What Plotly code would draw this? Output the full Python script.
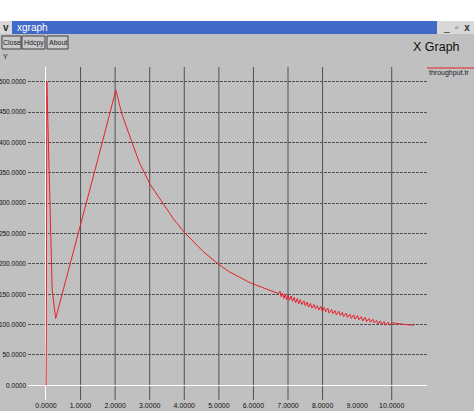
import plotly.graph_objects as go

# throughput.tr samples (time s, throughput)
time_s = [
    0.000, 0.010, 0.025, 0.045, 0.055, 0.065, 0.070, 0.170, 0.180, 0.280,
    0.70, 1.00, 1.50, 2.02,
    2.10, 2.20, 2.43, 2.70, 3.00, 3.39, 3.70, 4.00, 4.55, 5.00, 5.30,
    5.90, 6.30, 6.72,
    6.77, 6.80, 6.84, 6.88, 6.92, 6.96, 7.00, 7.04, 7.09, 7.13,
    7.18, 7.22, 7.27, 7.31, 7.36, 7.40, 7.46, 7.50, 7.55, 7.59,
    7.65, 7.69, 7.75, 7.79, 7.85, 7.89, 7.95, 7.99, 8.05, 8.09,
    8.15, 8.19, 8.26, 8.30, 8.36, 8.40, 8.47, 8.51, 8.57, 8.61,
    8.68, 8.72, 8.79, 8.83, 8.90, 8.94, 9.01, 9.05, 9.12, 9.16,
    9.23, 9.27, 9.34, 9.38, 9.45, 9.49, 9.56, 9.60, 9.67, 9.71,
    9.78, 9.82, 9.89, 9.93, 10.00, 10.20, 10.40, 10.63,
]
throughput = [
    0, 85, 500, 455, 418, 440, 409, 176, 157, 110,
    199, 262, 372, 486,
    468, 446, 409, 367, 332, 299, 273, 252, 220, 199, 187,
    169, 160, 151,
    155, 146, 152, 143, 150, 141, 149, 140, 147, 138,
    145, 136, 143, 134, 141, 133, 139, 131, 137, 129,
    135, 127, 133, 126, 131, 124, 130, 122, 128, 121,
    127, 119, 125, 118, 123, 116, 122, 115, 120, 113,
    119, 112, 117, 110, 116, 109, 115, 108, 113, 106,
    112, 105, 110, 104, 109, 103, 107, 101, 106, 100,
    105, 99, 104, 99, 103, 101, 100, 99,
]

x_ticks = [0, 1, 2, 3, 4, 5, 6, 7, 8, 9, 10]
x_labels = ["0.0000", "1.0000", "2.0000", "3.0000", "4.0000", "5.0000",
            "6.0000", "7.0000", "8.0000", "9.0000", "10.0000"]
x_grid = [1, 2, 3, 4, 5, 6, 7, 8, 10]
y_ticks = [0, 50, 100, 150, 200, 250, 300, 350, 400, 450, 500]
y_labels = ["0.0000", "50.0000", "100.0000", "150.0000", "200.0000", "250.0000",
            "300.0000", "350.0000", "400.0000", "450.0000", "500.0000"]

W, H = 474, 411
BG = "#c0c0c0"
GRID = "#505050"
RED = "#e8202a"
FONT = "Liberation Sans Narrow, Liberation Sans, Arial, sans-serif"


def px(x):
    return x / W


def py(y):
    return 1 - y / H


def label(text, x, y, size=7, color="#202020", xanchor="left"):
    return dict(text=text, xref="paper", yref="paper", x=px(x), y=py(y),
                xanchor=xanchor, yanchor="middle", showarrow=False,
                font=dict(family=FONT, size=size, color=color))


fig = go.Figure()

fig.add_trace(go.Scatter(
    x=time_s,
    y=throughput,
    mode="lines",
    line=dict(color=RED, width=1),
    name="throughput.tr",
    hoverinfo="x+y",
))

shapes = [
    # white strip above window
    dict(type="rect", xref="paper", yref="paper", x0=0, x1=1, y0=py(21), y1=1,
         fillcolor="white", line_width=0),
    # title bar
    dict(type="rect", xref="paper", yref="paper", x0=px(12), x1=px(437),
         y0=py(34), y1=py(21), fillcolor="#4169c8", line_width=0),
    dict(type="rect", xref="paper", yref="paper", x0=0, x1=px(12),
         y0=py(34), y1=py(21), fillcolor="#d8d8d8", line_width=0),
    dict(type="rect", xref="paper", yref="paper", x0=px(437), x1=1,
         y0=py(34), y1=py(21), fillcolor="#d8d8d8", line_width=0),
    # legend line
    dict(type="line", xref="paper", yref="paper", x0=px(427), x1=1,
         y0=py(68), y1=py(68), line=dict(color=RED, width=1)),
]

# vertical grid (xgraph leaves out the 9.0 line)
for v in x_grid:
    shapes.append(dict(type="line", xref="x", yref="paper", x0=v, x1=v,
                       y0=py(400), y1=py(67), layer="below",
                       line=dict(color=GRID, width=1)))

# buttons
buttons = [("Close", 2, 21), ("Hdcpy", 22, 45), ("About", 47, 68)]
annotations = []
for text, bx0, bx1 in buttons:
    shapes.append(dict(type="rect", xref="paper", yref="paper",
                       x0=px(bx0), x1=px(bx1), y0=py(49), y1=py(36),
                       fillcolor="#c8c8c8", line=dict(color="#404040", width=1)))
    annotations.append(label(text, (bx0 + bx1) / 2, 42.5, size=7, xanchor="center"))

annotations += [
    label("xgraph", 15, 27.5, size=10, color="white"),
    label("<b>v</b>", 5.5, 27.5, size=10, color="#303030", xanchor="center"),
    label("_  \u25ab  <b>x</b>", 456, 27.5, size=10, color="#303030", xanchor="center"),
    label("X Graph", 411, 46.5, size=12.5, color="#101010"),
    label("Y", 1, 57, size=7),
    label("throughput.tr", 427, 73, size=7),
]

fig.update_layout(
    width=W,
    height=H,
    margin=dict(l=0, r=0, t=0, b=0),
    paper_bgcolor=BG,
    plot_bgcolor=BG,
    showlegend=False,
    shapes=shapes,
    annotations=annotations,
    font=dict(family=FONT, size=7, color="#101010"),
)

fig.update_xaxes(
    domain=[px(28), px(427)],
    range=[-0.52, 11.02],
    tickvals=x_ticks,
    ticktext=x_labels,
    showgrid=False,
    zeroline=True,
    zerolinecolor="white",
    zerolinewidth=1,
    ticks="",
    automargin=False,
    tickfont=dict(family=FONT, size=7, color="#101010"),
    showline=False,
)

fig.update_yaxes(
    domain=[py(400), py(67)],
    range=[-24.2, 524.2],
    tickvals=y_ticks,
    ticktext=y_labels,
    showgrid=True,
    gridcolor=GRID,
    gridwidth=1,
    griddash="3px,1px",
    zeroline=True,
    zerolinecolor="white",
    zerolinewidth=1,
    ticks="",
    automargin=False,
    ticklabelstandoff=1,
    tickfont=dict(family=FONT, size=6.5, color="#101010"),
    showline=False,
)

fig.write_html("out.html", config={"displayModeBar": False},
               post_script="document.body.style.margin='0';")
